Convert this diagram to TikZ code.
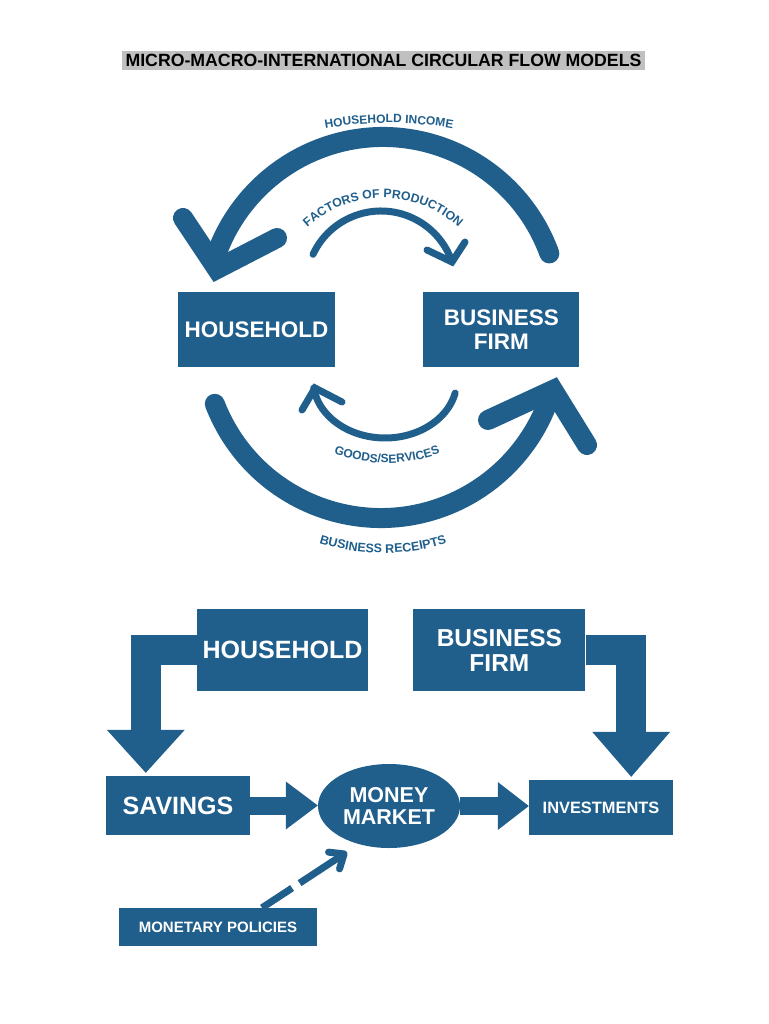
\documentclass[tikz,border=0pt]{standalone}
\usepackage{fontspec}
\setmainfont{Liberation Sans}
\usepackage{tikz}
\usetikzlibrary{shapes.geometric,arrows.meta,positioning,calc,decorations.text}
\definecolor{flowcol}{RGB}{32,95,140}
\definecolor{titlecol}{RGB}{192,192,192}
\newcommand\setfs[2]{\fontsize{#1}{#2}\selectfont}

\begin{document}
\begin{tikzpicture}[
  x=1pt, y=1pt,
  box/.style={rectangle, fill=flowcol, text=white, inner sep=0pt,
              align=center, font=\bfseries},
  flowarc/.style={draw=flowcol, line width=20pt, line cap=round},
  tipbig/.style={draw=flowcol, line width=20pt, line cap=round, line join=miter},
  flowarcthin/.style={draw=flowcol, line width=7pt, line cap=round},
  tipthin/.style={draw=flowcol, line width=7pt, line cap=round, line join=miter},
  curved/.style={decorate, decoration={text along path, text align=center,
                 text color=flowcol}},
  blk/.style={color=flowcol, line width=#1}
]
  \useasboundingbox (0,0) rectangle (768,-1024);

  % Title bar
  \node[fill=titlecol, minimum width=523pt, minimum height=19pt, inner sep=0pt,
        font=\bfseries\setfs{17.7}{18}] (ttl) at (383.5,-60.5)
    {MICRO-MACRO-INTERNATIONAL CIRCULAR FLOW MODELS};

  % Micro model: the two sectors
  \node[box, minimum width=157pt, minimum height=75pt, font=\bfseries\setfs{22.5}{23.5}]
    (hh) at (256.5,-329.5) {HOUSEHOLD};
  \node[box, minimum width=156pt, minimum height=75pt, font=\bfseries\setfs{22.5}{23.5},
        right=88pt of hh] (bf) {BUSINESS\\FIRM};

  % Arc centres
  \coordinate (inc) at (383,-314);
  \coordinate (rec) at (381,-340);
  \coordinate (fop) at (381,-286);
  \coordinate (gds) at (385,-380);

  % Outer flows
  \draw[flowarc] ($(inc)+(20:177pt)$) arc[start angle=20, end angle=163, radius=177pt];
  \draw[tipbig] (183,-218) -- (217,-269) -- (277,-238);
  \draw[flowarc] ($(rec)+(201:178pt)$) arc[start angle=201, end angle=341, radius=178pt];
  \draw[tipbig] (488,-420) -- (553,-390) -- (587,-445);

  % Inner flows
  \draw[flowarcthin] ($(fop)+(155:75pt)$) arc[start angle=155, end angle=19, radius=75pt];
  \draw[tipthin] (427,-250) -- (452,-262) -- (465,-242);
  \draw[flowarcthin] ($(gds)+(347:72pt and 58pt)$)
    arc[start angle=347, end angle=188, x radius=72pt, y radius=58pt];
  \draw[tipthin] (302,-410) -- (315,-388) -- (342,-402);

  % Curved labels
  \path[curved, decoration={text={|\bfseries\setfs{12}{12}|HOUSEHOLD INCOME}}]
    ($(389,-486)+(102:363pt)$) arc[start angle=102, end angle=78, radius=363pt];
  \path[curved, decoration={text={|\bfseries\setfs{12.3}{12.3}|FACTORS OF PRODUCTION}}]
    ($(383,-310)+(150:112pt)$) arc[start angle=150, end angle=30, radius=112pt];
  \path[curved, decoration={text={|\bfseries\setfs{12}{12}|GOODS/SERVICES}}]
    ($(387,-312)+(215:151pt)$) arc[start angle=215, end angle=325, radius=151pt];
  \path[curved, decoration={text={|\bfseries\setfs{12.5}{12.5}|BUSINESS RECEIPTS}}]
    ($(383,-343)+(240:210pt)$) arc[start angle=240, end angle=300, radius=210pt];

  % Macro model
  \node[box, minimum width=171pt, minimum height=82pt, font=\bfseries\setfs{25}{25}]
    (hh2) at (282.5,-650) {HOUSEHOLD};
  \node[box, minimum width=172pt, minimum height=82pt, font=\bfseries\setfs{24.5}{25},
        right=45pt of hh2] (bf2) {BUSINESS\\FIRM};
  \node[box, minimum width=144pt, minimum height=59pt, font=\bfseries\setfs{25}{25}]
    (sav) at (178,-805.5) {SAVINGS};
  \node[box, ellipse, minimum width=142pt, minimum height=84pt,
        font=\bfseries\setfs{21.5}{22}] (mm) at (389,-806) {MONEY\\MARKET};
  \node[box, minimum width=144pt, minimum height=55pt, font=\bfseries\setfs{16.4}{17}]
    (inv) at (601,-807.5) {INVESTMENTS};
  \node[box, minimum width=198pt, minimum height=38pt, font=\bfseries\setfs{15}{15}]
    (mp) at (218,-927) {MONETARY POLICIES};

  % Block arrows
  \draw[blk=29.5pt, -{Triangle[length=43pt, width=78pt, line width=0pt]}]
    (hh2.west) -| ($(sav.north west)+(40,3)$);
  \draw[blk=29.5pt, -{Triangle[length=45pt, width=78pt, line width=0pt]}]
    (bf2.east) -| ($(inv.north east)+(-42,3)$);
  \draw[blk=18pt, -{Triangle[length=32pt, width=48pt, line width=0pt]}]
    (sav.east) -- (sav.east -| mm.west);
  \draw[blk=18pt, -{Triangle[length=31pt, width=48pt, line width=0pt]}]
    (mm.east) -- (mm.east -| inv.west);

  % Policy link
  \draw[flowcol, line width=7pt, dash pattern=on 36pt off 9pt on 100pt off 0pt,
        -{Straight Barb[length=12pt, width=20pt, round]}]
    ($(mp.north)+(44,0)$) -- ($(mm)+(-42,-46)$);
\end{tikzpicture}
\end{document}
